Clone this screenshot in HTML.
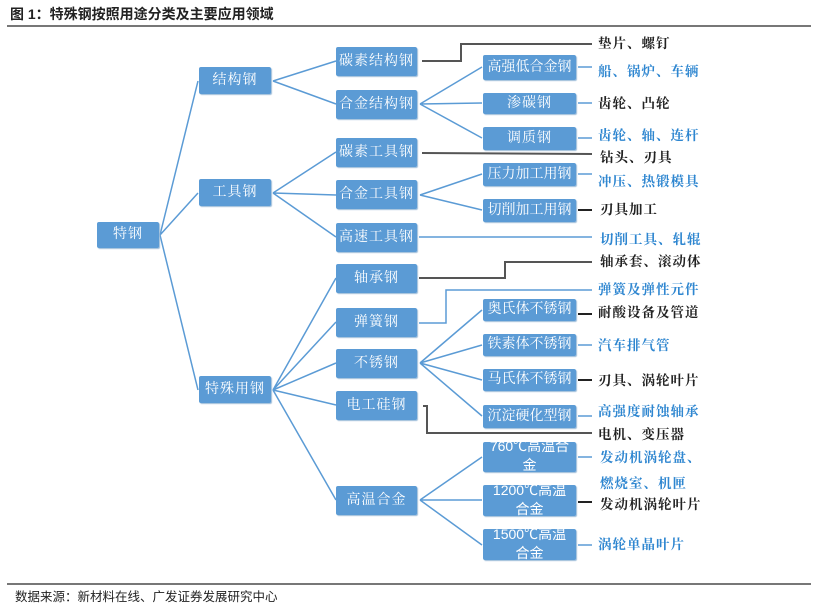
<!DOCTYPE html>
<html><head><meta charset="utf-8"><style>
body{margin:0;width:816px;height:607px;background:#fff;position:relative;overflow:hidden;font-family:"Liberation Serif","Noto Serif CJK SC",serif}
.b{position:absolute;background:#5b9bd5;color:#fff;font-size:14px;text-align:center;overflow:hidden;border-radius:2px;box-shadow:1px 1px 1px #9bbbd9;letter-spacing:1px;white-space:nowrap}
.b2{line-height:19px;font-family:"Liberation Sans","Noto Sans CJK SC",sans-serif;font-size:14px;letter-spacing:0}
.t{position:absolute;font-size:13.5px;white-space:nowrap;font-weight:bold;line-height:16px;letter-spacing:1px}
.bl{color:#2e86d0}.bk{color:#222}
</style></head><body>
<div style="position:absolute;left:10px;top:4px;font-size:14px;font-weight:bold;font-family:'Liberation Sans','Noto Sans CJK SC',sans-serif;color:#222">图 1：特殊钢按照用途分类及主要应用领域</div>
<div style="position:absolute;left:7px;top:25px;width:804px;height:2px;background:#777"></div>
<div style="position:absolute;left:7px;top:583px;width:804px;height:2px;background:#777"></div>
<div style="position:absolute;left:15px;top:586px;font-size:12.5px;font-family:'Liberation Sans','Noto Sans CJK SC',sans-serif;color:#222">数据来源：新材料在线、广发证券发展研究中心</div>
<svg width="816" height="607" style="position:absolute;left:0;top:0">
<g stroke="#5b9bd5" stroke-width="1.5" fill="none">
<path d="M160 235 L198 81 M160 235 L198 193 M160 235 L198 390"/>
<path d="M273 81 L336 61 M273 81 L336 104"/>
<path d="M273 193 L336 152 M273 193 L336 195 M273 193 L336 237"/>
<path d="M273 390 L336 278 M273 390 L336 322 M273 390 L336 363 M273 390 L336 405 M273 390 L336 500"/>
<path d="M420 104 L482 67 M420 104 L482 103 M420 104 L482 138"/>
<path d="M420 195 L482 174 M420 195 L482 210"/>
<path d="M420 363 L482 310 M420 363 L482 345 M420 363 L482 380 M420 363 L482 416"/>
<path d="M420 500 L482 457 M420 500 L482 500 M420 500 L482 545"/>
<path d="M419 237 L592 237"/>
<path d="M419 323 L446 323 L446 290 L592 290"/>
<path d="M578 67 L592 67 M578 103 L592 103 M578 138 L592 138 M578 174 L592 174 M578 345 L592 345 M578 416 L592 416 M578 457 L592 457 M578 545 L592 545"/>
</g>
<g stroke="#555" stroke-width="2" fill="none">
<path d="M422 61 L461 61 L461 44 L592 44"/>
<path d="M422 153 L592 154"/>
<path d="M419 278 L505 278 L505 262 L592 262"/>
<path d="M423 406 L427 406 L427 433 L592 433"/>
</g>
<g stroke="#222" stroke-width="2"><path d="M578 210 L592 210 M578 314 L592 314 M578 380 L592 380 M578 502 L592 502"/></g>
</svg>
<div class="b" style="left:97px;top:222px;width:62px;height:26px;line-height:26px">特钢</div>
<div class="b" style="left:199px;top:67px;width:72px;height:27px;line-height:27px">结构钢</div>
<div class="b" style="left:199px;top:179px;width:72px;height:27px;line-height:27px">工具钢</div>
<div class="b" style="left:199px;top:376px;width:72px;height:27px;line-height:27px">特殊用钢</div>
<div class="b" style="left:336px;top:47px;width:81px;height:29px;line-height:29px">碳素结构钢</div>
<div class="b" style="left:336px;top:90px;width:81px;height:29px;line-height:29px">合金结构钢</div>
<div class="b" style="left:336px;top:138px;width:81px;height:29px;line-height:29px">碳素工具钢</div>
<div class="b" style="left:336px;top:180px;width:81px;height:29px;line-height:29px">合金工具钢</div>
<div class="b" style="left:336px;top:223px;width:81px;height:29px;line-height:29px">高速工具钢</div>
<div class="b" style="left:336px;top:264px;width:81px;height:29px;line-height:29px">轴承钢</div>
<div class="b" style="left:336px;top:308px;width:81px;height:29px;line-height:29px">弹簧钢</div>
<div class="b" style="left:336px;top:349px;width:81px;height:29px;line-height:29px">不锈钢</div>
<div class="b" style="left:336px;top:391px;width:81px;height:29px;line-height:29px">电工硅钢</div>
<div class="b" style="left:336px;top:486px;width:81px;height:29px;line-height:29px">高温合金</div>
<div class="b" style="left:483px;top:55px;width:93px;height:25px;line-height:25px;letter-spacing:0">高强低合金钢</div>
<div class="b" style="left:483px;top:93px;width:93px;height:21px;line-height:21px">渗碳钢</div>
<div class="b" style="left:483px;top:127px;width:93px;height:23px;line-height:23px">调质钢</div>
<div class="b" style="left:483px;top:163px;width:93px;height:23px;line-height:23px;letter-spacing:0">压力加工用钢</div>
<div class="b" style="left:483px;top:199px;width:93px;height:23px;line-height:23px;letter-spacing:0">切削加工用钢</div>
<div class="b" style="left:483px;top:299px;width:93px;height:22px;line-height:22px;letter-spacing:0">奥氏体不锈钢</div>
<div class="b" style="left:483px;top:334px;width:93px;height:22px;line-height:22px;letter-spacing:0">铁素体不锈钢</div>
<div class="b" style="left:483px;top:369px;width:93px;height:22px;line-height:22px;letter-spacing:0">马氏体不锈钢</div>
<div class="b" style="left:483px;top:405px;width:93px;height:23px;line-height:23px;letter-spacing:0">沉淀硬化型钢</div>
<div class="b b2" style="left:483px;top:442px;width:93px;height:30px"><div style="margin-top:-5px">760℃高温合<br>金</div></div>
<div class="b b2" style="left:483px;top:485px;width:93px;height:31px"><div style="margin-top:-4px">1200℃高温<br>合金</div></div>
<div class="b b2" style="left:483px;top:529px;width:93px;height:31px"><div style="margin-top:-4px">1500℃高温<br>合金</div></div>
<div class="t bk" style="left:598px;top:36px">垫片、螺钉</div>
<div class="t bl" style="left:598px;top:64px">船、锅炉、车辆</div>
<div class="t bk" style="left:598px;top:96px">齿轮、凸轮</div>
<div class="t bl" style="left:598px;top:128px">齿轮、轴、连杆</div>
<div class="t bk" style="left:600px;top:150px">钻头、刃具</div>
<div class="t bl" style="left:598px;top:174px">冲压、热锻模具</div>
<div class="t bk" style="left:600px;top:202px">刃具加工</div>
<div class="t bl" style="left:600px;top:232px">切削工具、轧辊</div>
<div class="t bk" style="left:600px;top:254px">轴承套、滚动体</div>
<div class="t bl" style="left:598px;top:282px">弹簧及弹性元件</div>
<div class="t bk" style="left:598px;top:305px">耐酸设备及管道</div>
<div class="t bl" style="left:598px;top:338px">汽车排气管</div>
<div class="t bk" style="left:598px;top:373px">刃具、涡轮叶片</div>
<div class="t bl" style="left:598px;top:404px">高强度耐蚀轴承</div>
<div class="t bk" style="left:598px;top:427px">电机、变压器</div>
<div class="t bl" style="left:600px;top:450px">发动机涡轮盘、</div>
<div class="t bl" style="left:600px;top:476px">燃烧室、机匣</div>
<div class="t bk" style="left:600px;top:497px">发动机涡轮叶片</div>
<div class="t bl" style="left:598px;top:537px">涡轮单晶叶片</div>
</body></html>
